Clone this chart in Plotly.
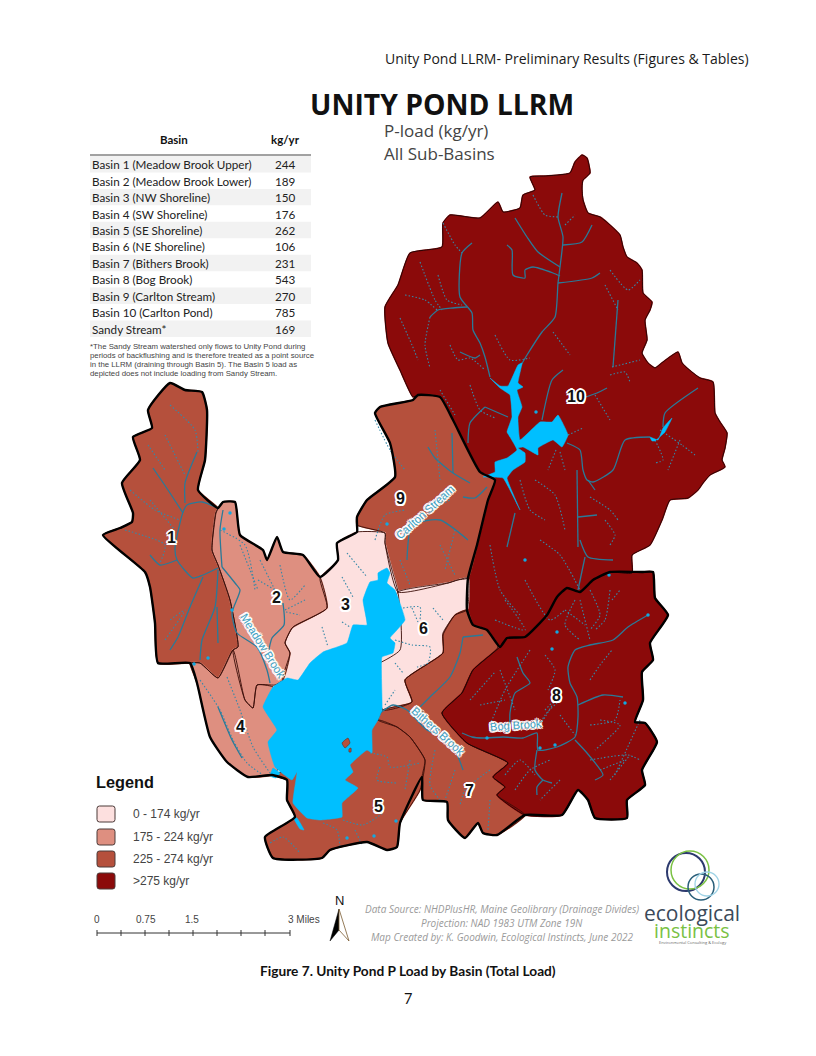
import plotly.graph_objects as go

# ---------- table ----------
table_basins = ["Basin 1 (Meadow Brook Upper)", "Basin 2 (Meadow Brook Lower)", "Basin 3 (NW Shoreline)",
                "Basin 4 (SW Shoreline)", "Basin 5 (SE Shoreline)", "Basin 6 (NE Shoreline)",
                "Basin 7 (Bithers Brook)", "Basin 8 (Bog Brook)", "Basin 9 (Carlton Stream)",
                "Basin 10 (Carlton Pond)", "Sandy Stream*"]
table_loads = [244, 189, 150, 176, 262, 106, 231, 543, 270, 785, 169]
table_note = ["*The Sandy Stream watershed only flows to Unity Pond during",
              "periods of backflushing and is therefore treated as a point source",
              "in the LLRM (draining through Basin 5). The Basin 5 load as",
              "depicted does not include loading from Sandy Stream."]
legend_labels = ["0 - 174 kg/yr", "175 - 224 kg/yr", "225 - 274 kg/yr", ">275 kg/yr"]
legend_colors = ["#fde0df", "#de8f80", "#b5503c", "#8b0a0a"]

# ---------- map outlines (page pixels) ----------
BASIN_10 = [(582,155),(587,158),(590,173),(583,180),(582,187),(583,200),(588,213),(600,217),(610,225),(620,235),(623,247),(627,257),
            (637,263),(642,270),(643,293),(652,302),(650,310),(645,320),(647,340),(642,353),(648,363),(655,368),(663,362),(678,352),
            (682,363),(687,368),(700,378),(713,382),(715,413),(720,422),(727,433),(725,448),(722,460),(725,467),(710,475),(703,483),
            (698,490),(688,498),(670,500),(662,520),(650,545),(632,555),(632,573),
            (610,572),(593,580),(580,592),(567,588),(557,597),(547,615),(525,637),(507,638),(500,647),(487,630),
            (473,625),(467,610),(468,578),(477,545),(488,500),(495,480),(480,472),(453,420),(440,397),(418,395),
            (413,397),(400,370),(388,343),(385,307),(398,285),(410,253),(442,247),(443,223),(450,215),(480,218),(498,202),(503,212),
            (520,208),(523,195),(535,190),(530,177),(545,176),(570,173),(575,162)]
BASIN_9 = [(375,413),(380,407),(413,400),(418,395),(440,397),(453,420),(480,472),(495,480),(488,500),(477,545),
           (468,578),(457,580),(448,583),(398,592),(385,543),(385,533),(357,525),(357,517),(367,500),(395,477),(390,443)]
BASIN_3 = [(337,543),(357,532),(385,533),(385,543),(392,570),(398,592),(400,650),(340,680),(283,680),(290,653),
           (285,643),(293,627),(327,608),(320,578),(338,560)]
BASIN_6 = [(398,592),(448,583),(468,578),(467,610),(455,615),(443,633),(443,653),(405,680),(412,702),(383,710),
           (375,660),(390,620)]
BASIN_1 = [(170,383),(185,390),(202,392),(207,410),(205,460),(198,490),(218,508),(216,513),(212,550),(218,565),
           (230,600),(238,647),(233,650),(218,678),(200,663),(190,663),(158,663),(155,623),(150,587),(145,572),
           (103,535),(120,528),(132,522),(133,513),(122,483),(140,460),(133,437),(152,428),(148,410)]
BASIN_2 = [(216,512),(223,502),(235,502),(240,535),(263,550),(267,560),(277,537),(283,552),(303,555),(320,577),
           (327,608),(292,628),(285,643),(290,653),(283,680),(275,685),(257,685),(253,708),(245,700),(233,650),
           (238,647),(230,600),(218,565),(212,550)]
BASIN_4 = [(190,663),(200,663),(218,678),(233,650),(245,700),(253,708),(257,685),(273,687),(290,720),(285,760),
           (272,775),(248,777),(227,762),(210,737),(197,683)]
BASIN_5 = [(272,775),(287,780),(287,800),(295,817),(265,837),(273,858),(322,858),(330,850),(367,842),(387,850),
           (397,847),(400,823),(420,790),(425,760),(410,737),(397,727),(378,720),(355,740),(320,770),(290,770)]
BASIN_7 = [(378,720),(383,710),(412,702),(405,680),(443,653),(443,635),(455,615),(467,610),(473,625),(487,630),
           (498,647),(473,670),(462,693),(442,713),(467,743),(508,763),(493,777),(505,787),(497,795),(525,815),
           (497,835),(483,833),(478,823),(465,838),(448,820),(447,802),(423,800),(422,777),(425,760),(410,737),(397,727)]
BASIN_8 = [(500,647),(507,638),(525,637),(547,615),(557,597),(567,588),(580,592),(593,580),(610,572),(642,572),
           (653,572),(655,598),(668,615),(650,643),(653,660),(642,672),(643,700),(635,722),(645,723),(657,742),
           (642,770),(645,785),(627,800),(627,818),(595,818),(588,800),(578,790),(562,815),(525,815),(497,795),
           (505,787),(493,777),(508,763),(467,743),(442,713),(462,693),(473,670)]
WATERSHED_EDGE = [(375,413),(380,407),(413,400),(418,395),(440,397),(453,420),(480,472),(495,480),(488,500),(477,545),
                  (468,578),(467,610),(473,625),(487,630),(500,647),(507,638),(525,637),(547,615),(557,597),(567,588),
                  (580,592),(593,580),(610,572),(642,572),(653,572),(655,598),(668,615),(650,643),(653,660),(642,672),
                  (643,700),(635,722),(645,723),(657,742),(642,770),(645,785),(627,800),(627,818),(595,818),(588,800),
                  (578,790),(562,815),(525,815),(497,835),(483,833),(478,823),(465,838),(448,820),(447,802),(423,800),
                  (422,777),(400,823),(397,847),(387,850),(367,842),(330,850),(322,858),(273,858),(265,837),(295,817),
                  (287,800),(287,780),(272,775),(248,777),(227,762),(210,737),(197,683),(190,663),(158,663),(155,623),
                  (150,587),(145,572),(103,535),(120,528),(132,522),(133,513),(122,483),(140,460),(133,437),(152,428),
                  (148,410),(170,383),(185,390),(202,392),(207,410),(205,460),(198,490),(218,508),(223,502),(235,502),
                  (240,535),(263,550),(267,560),(277,537),(283,552),(303,555),(320,577),(338,560),(337,543),(357,532),
                  (357,525),(357,517),(367,500),(395,477),(390,443),(375,413)]
UNITY_POND = [(387,568),(390,573),(387,583),(395,590),(405,620),(397,630),(390,638),(395,643),(393,653),(382,657),
              (382,710),(378,720),(372,730),(372,753),(367,750),(350,765),(353,772),(345,780),(358,788),(342,803),
              (342,817),(320,820),(307,818),(293,803),(297,772),(292,780),(275,767),(268,742),(277,730),(263,707),
              (273,687),(287,678),(298,680),(310,663),(323,652),(347,643),(353,625),(367,625),(363,600),(370,582),
              (378,580),(378,573)]
CARLTON_POND = [(490,378),(500,386),(508,386),(518,365),(522,363),(518,383),(523,387),(517,390),(522,407),(518,417),
                (520,440),(540,422),(552,422),(558,415),(568,435),(562,447),(553,440),(538,448),(538,455),(523,447),
                (518,448),(525,453),(525,462),(513,470),(507,478),(520,510),(503,478),(483,477),(495,472),(495,462),
                (507,458),(517,450),(510,437),(507,432),(512,417),(510,395),(500,388)]
HEAD_POND = [(650,437),(658,440),(663,428),(672,418),(665,432),(655,441),(652,441)]
SLIVER_POND = [(293,817),(297,818),(304,830),(300,829)]
COVE_POND = [(273,768),(280,773),(276,778),(270,776)]
ISLAND_A = [(342,743),(348,738),(350,743),(345,748)]
ISLAND_B = [(349,749),(351,748),(351,752),(349,752)]

SOLID_STREAMS = [
    [(562,193),(558,217),(563,237),(560,267),(558,283),(555,317),(542,332),(527,355),(520,367)],
    [(515,218),(527,237),(538,252),(560,267)],
    [(563,245),(582,242),(592,225)],
    [(507,245),(512,250),(513,275),(525,278),(525,270),(533,267),(553,273),(560,276)],
    [(558,283),(592,278),(600,273)],
    [(472,243),(462,253),(460,297),(472,313),(473,330),(480,343),(485,357),(490,377)],
    [(430,317),(438,310),(453,308),(467,307)],
    [(567,443),(580,450),(583,470),(587,480),(593,482),(613,470),(625,440),(650,437)],
    [(663,427),(665,413),(698,388)],
    [(542,420),(552,380),(563,370)],
    [(567,403),(597,393),(607,388)],
    [(613,367),(618,300)],
    [(577,470),(578,547)],
    [(485,407),(470,423),(468,443)],
    [(485,407),(508,417)],
    [(515,513),(507,547)],
    [(578,517),(597,515)],
    [(595,490),(588,480)],
    [(580,540),(588,557),(613,560)],
    [(585,557),(578,590)],
    [(480,355),(475,358),(460,352)],
    [(218,568),(203,575),(193,578),(177,560),(175,548),(183,512),(187,505),(202,502),(218,508)],
    [(185,503),(185,483),(197,452)],
    [(183,513),(168,490),(153,468)],
    [(203,577),(190,607),(178,637),(170,650)],
    [(218,570),(215,607),(202,640),(200,660)],
    [(217,607),(218,643)],
    [(177,560),(160,565),(150,555)],
    [(222,567),(235,583),(240,590),(232,613),(237,633),(257,647),(267,670),(270,683)],
    [(223,510),(220,530),(222,567)],
    [(283,603),(284,625),(272,638),(268,655)],
    [(648,615),(628,627),(613,640),(590,645),(575,650),(568,667),(570,683),(577,697),(578,717),(575,737),(557,747),
     (538,750),(537,733),(523,738),(503,737),(483,738),(472,737),(462,733)],
    [(517,657),(523,673),(530,683),(515,693),(510,713),(510,727)],
    [(578,705),(603,695),(623,697)],
    [(575,740),(587,753),(603,775),(595,780)],
    [(537,750),(535,770),(543,780),(552,783)],
    [(543,780),(537,787),(537,795)],
    [(380,713),(393,705),(407,710),(427,730),(450,740),(463,770)],
    [(463,637),(460,653),(450,677),(430,697),(420,707)],
    [(463,637),(483,635)],
    [(428,447),(435,458),(453,473),(470,483)],
    [(452,433),(453,473)],
    [(463,497),(475,498),(487,487)],
    [(407,560),(412,525),(440,520),(468,540)],
    [(218,707),(232,740),(242,758)],
]
DOTTED_STREAMS = [
    [(443,223),(455,245),(462,253)], [(420,262),(435,300),(442,310)], [(438,275),(447,300),(462,305)],
    [(405,295),(425,300),(437,310)], [(400,318),(412,345),(418,360)], [(430,317),(425,345),(430,368)],
    [(450,345),(458,360),(470,358),(485,370)], [(495,335),(510,360),(530,358)], [(553,332),(570,355)],
    [(533,195),(545,215),(558,217)], [(565,225),(575,215)], [(610,270),(628,290),(640,280)],
    [(605,285),(618,310)], [(612,367),(640,360)], [(595,395),(610,420)], [(610,375),(625,372),(630,382)],
    [(470,385),(480,410),(495,418)], [(440,390),(455,415)], [(568,435),(583,428)], [(556,450),(548,470)],
    [(560,452),(565,470)], [(660,430),(682,445),(695,455)], [(680,440),(668,470)], [(655,440),(663,460),(655,463)],
    [(520,480),(530,510),(545,520)], [(535,480),(555,495),(565,530)], [(590,497),(610,510),(618,520)],
    [(605,520),(615,535),(610,545)], [(490,545),(500,590),(520,615)], [(525,580),(550,620),(565,610)],
    [(540,540),(560,555),(580,590)], [(505,600),(525,630),(495,620)], [(610,590),(605,620),(595,630)],
    [(580,600),(590,640)], [(565,610),(585,625)], [(500,670),(515,710)], [(470,700),(495,672)],
    [(480,705),(505,700)], [(540,725),(555,700),(545,710)], [(560,715),(575,735)],
    [(600,720),(620,725),(595,750)], [(590,760),(628,755),(640,760)], [(610,780),(630,755)], [(560,780),(540,800)],
    [(515,790),(530,770),(550,760)],
    [(590,590),(600,615),(590,630)], [(575,600),(565,625),(580,640)], [(612,600),(620,590)], [(545,655),(555,670),(548,690)],
    [(530,650),(505,690),(490,725)], [(590,680),(600,665),(612,650)], [(560,700),(545,715),(540,725)],
    [(590,725),(615,720),(620,700)], [(640,720),(615,775)], [(600,770),(625,760)], [(505,775),(520,760),(535,775)],
    [(148,445),(165,470)], [(165,435),(185,475)], [(170,405),(195,430),(198,452)],
    [(130,490),(155,510),(180,520)], [(125,530),(165,545),(160,563)], [(150,500),(175,530)],
    [(165,640),(185,610),(170,620)], [(220,530),(245,545),(255,590)], [(240,545),(250,570),(258,590)],
    [(260,560),(275,590),(283,605)], [(280,565),(290,600),(305,585)], [(258,580),(275,590)], [(285,610),(305,600)],
    [(286,612),(300,615)], [(347,553),(367,577)], [(342,577),(353,597)], [(322,627),(328,647)], [(342,622),(350,627)],
    [(403,608),(420,607),(420,620)], [(412,608),(418,622)], [(433,608),(443,620)],
    [(395,640),(412,645),(430,647),(428,663),(417,667)], [(395,663),(403,673)], [(385,705),(395,690)],
    [(200,680),(220,710),(233,740),(247,763),(263,775)], [(227,677),(240,710),(253,747),(270,773)],
    [(323,823),(337,830),(340,847)], [(343,820),(363,825),(383,813)], [(370,753),(387,757),(390,767),(420,763)],
    [(380,767),(377,780),(397,783)], [(270,843),(283,837),(300,853)], [(355,830),(362,845)], [(410,760),(405,790)],
    [(435,750),(430,785),(440,800)], [(455,770),(445,800)], [(490,770),(465,790),(460,805)], [(490,800),(488,830)],
    [(375,420),(390,450),(405,470)], [(435,430),(440,480)], [(375,540),(385,515),(405,510)],
    [(420,515),(450,500)], [(455,530),(445,570)], [(400,560),(410,585)], [(440,545),(455,575)],
]
POND_SPECKS = [(648,615),(552,649),(487,738),(555,745),(540,748),(525,560),(625,703),(557,632),(609,575),(536,412),
               (387,524),(230,513),(224,529),(232,610),(208,658),(194,664),(396,821),(374,836),(347,838)]

BASIN_FILLS = [(BASIN_10, 3), (BASIN_9, 2), (BASIN_3, 0), (BASIN_6, 0), (BASIN_1, 2), (BASIN_2, 1),
               (BASIN_4, 1), (BASIN_5, 2), (BASIN_7, 2), (BASIN_8, 3)]
BASIN_NUMBERS = [("1",171,537),("2",276,597),("3",345,604),("4",240,726),("5",378,806),("6",423,628),
                 ("7",469,790),("8",556,695),("9",400,498),("10",576,396)]
STREAM_NAMES = [("Meadow Brook",263,646,58),("Carlton Stream",425,512,-42),("Bithers Brook",438,731,42),("Bog Brook",516,725,-4)]
SCALE_TICKS = [97,121,145,169,193,217,241,265,290]
SCALE_LABELS = [("0",97),("0.75",146),("1.5",192),("3 Miles",304)]
CREDITS = ["Data Source: NHDPlusHR, Maine Geolibrary (Drainage Divides)",
           "Projection: NAD 1983 UTM Zone 19N",
           "Map Created by: K. Goodwin, Ecological Instincts, June 2022"]

HALO = ",".join(f"{dx}px {dy}px 0.6px #fff" for dx, dy in
                [(-2,0),(2,0),(0,-2),(0,2),(-1.5,-1.5),(1.5,-1.5),(-1.5,1.5),(1.5,1.5)])

fig = go.Figure()

def poly(pts, fill, line="rgba(0,0,0,0)", w=0, closed=True, smooth=0.45):
    xs = [p[0] for p in pts]
    ys = [p[1] for p in pts]
    if closed:
        xs.append(xs[0]); ys.append(ys[0])
    fig.add_trace(go.Scatter(x=xs, y=ys, mode="lines", fill="toself" if fill else None, fillcolor=fill,
                             line=dict(color=line, width=w, shape="spline", smoothing=smooth),
                             hoverinfo="skip", showlegend=False))

def stream(pts, color, w, dash="solid"):
    fig.add_trace(go.Scatter(x=[p[0] for p in pts], y=[p[1] for p in pts], mode="lines",
                             line=dict(color=color, width=w, dash=dash, shape="spline", smoothing=0.6),
                             hoverinfo="skip", showlegend=False))

for pts, c in BASIN_FILLS:
    poly(pts, legend_colors[c], legend_colors[c], 1.5)
for pts, c in BASIN_FILLS:
    poly(pts, None, "#3a0d08" if c != 3 else "#1d0505", 0.9)

for s in SOLID_STREAMS:
    stream(s, "#2a7a98", 1.3)
for s in DOTTED_STREAMS:
    stream(s, "#3688a8", 1.1, "1.5px,2px")

for p in (UNITY_POND, CARLTON_POND, HEAD_POND, SLIVER_POND, COVE_POND):
    poly(p, "#00bfff", "#00bfff", 0.5, smooth=0.3)
poly(ISLAND_A, legend_colors[2], "#5a1c10", 0.5)
poly(ISLAND_B, legend_colors[2], "#5a1c10", 0.5)

fig.add_trace(go.Scatter(x=[p[0] for p in POND_SPECKS], y=[p[1] for p in POND_SPECKS], mode="markers",
                         marker=dict(color="#12a8e0", size=3.5), hoverinfo="skip", showlegend=False))
poly(WATERSHED_EDGE, None, "#000000", 2.4, closed=False)

shapes = []
annos = []

def text(t, x, y, size, color="#000", family="Lato", anchor="left", bold=False, italic=False, **kw):
    if bold:
        t = f"<b>{t}</b>"
    if italic:
        t = f"<i>{t}</i>"
    annos.append(dict(x=x, y=y, xref="x", yref="y", text=t, showarrow=False, xanchor=anchor, yanchor="middle",
                      font=dict(size=size, color=color, family=family), **kw))

# header
text("Unity Pond LLRM- Preliminary Results (Figures &amp; Tables)", 751, 58, 14, "#1a1a1a", "Open Sans", "right")
text("UNITY POND LLRM", 442, 104, 28.3, "#111", "Open Sans", "center", bold=True)
text("P-load (kg/yr)", 382, 130, 17, "#444", "Open Sans")
text("All Sub-Basins", 382, 153, 17, "#444", "Open Sans")

# table
row_h = 16.45
top = 156
for i, (b, v) in enumerate(zip(table_basins, table_loads)):
    if i % 2 == 0:
        shapes.append(dict(type="rect", x0=90, x1=311, y0=top + i*row_h, y1=top + (i+1)*row_h,
                           fillcolor="#f2f2f2", line_width=0, layer="below"))
    text(b, 90, top + (i+0.5)*row_h, 11.7, "#222", "Lato")
    text(str(v), 285, top + (i+0.5)*row_h, 11.7, "#222", "Lato", "center")
shapes.append(dict(type="line", x0=90, x1=311, y0=155, y1=155, line=dict(color="#444", width=1)))
text("Basin", 174, 139, 11.5, "#111", "Lato", "center", bold=True)
text("kg/yr", 285, 139, 11.5, "#111", "Lato", "center", bold=True)
for i, n in enumerate(table_note):
    text(n, 88, 346 + i*9, 7.8, "#444", "Liberation Sans")

# map labels
for t, x, y, ang in STREAM_NAMES:
    annos.append(dict(x=x, y=y, xref="x", yref="y", text=t, showarrow=False, textangle=ang,
                      font=dict(size=11, color="#3aa2c4", family="Liberation Sans", shadow=HALO)))
for t, x, y in BASIN_NUMBERS:
    annos.append(dict(x=x, y=y, xref="x", yref="y", text=f"<b>{t}</b>", showarrow=False,
                      font=dict(size=16, color="#111", family="Liberation Sans", shadow=HALO)))

def rounded_rect(x0, y0, x1, y1, r):
    return (f"M {x0+r} {y0} L {x1-r} {y0} Q {x1} {y0} {x1} {y0+r} L {x1} {y1-r} Q {x1} {y1} {x1-r} {y1} "
            f"L {x0+r} {y1} Q {x0} {y1} {x0} {y1-r} L {x0} {y0+r} Q {x0} {y0} {x0+r} {y0} Z")

# legend
text("Legend", 94, 782, 16.3, "#111", "Liberation Sans", bold=True)
for label, col, y in zip(legend_labels, legend_colors, [814, 837, 859, 881]):
    shapes.append(dict(type="path", path=rounded_rect(97, y-8, 115, y+8, 2.5), fillcolor=col,
                       line=dict(color="#4a3a38", width=1)))
    text(label, 131, y, 12, "#444", "Liberation Sans")

# scale bar
shapes.append(dict(type="line", x0=SCALE_TICKS[0], x1=SCALE_TICKS[-1], y0=933, y1=933, line=dict(color="#333", width=1)))
for t in SCALE_TICKS:
    shapes.append(dict(type="line", x0=t, x1=t, y0=930, y1=936, line=dict(color="#333", width=1)))
for t, x in SCALE_LABELS:
    text(t, x, 919, 10, "#444", "Liberation Sans", "center")

# north arrow
text("N", 339, 900, 13, "#111", "Liberation Sans", "center")
shapes.append(dict(type="path", path="M 339 909 L 339 930 L 330 941 Z", fillcolor="#000", line=dict(color="#000", width=0.5)))
shapes.append(dict(type="path", path="M 339 909 L 339 930 L 349 941 Z", fillcolor="#fff", line=dict(color="#7a5a30", width=0.8)))

# credits
for c, y in zip(CREDITS, [909, 923, 937]):
    text(c, 502, y, 10, "#9a9a9a", "Open Sans", "center", italic=True)

# logo
for cx, cy, r, col, w in [(686,872,19,"#2d3a6e",2), (690,870,19,"#7ac143",1.5), (701,887,13,"#2a5f7a",1.5), (707,884,12,"#9fd3e6",1.3)]:
    shapes.append(dict(type="circle", x0=cx-r, x1=cx+r, y0=cy-r, y1=cy+r, line=dict(color=col, width=w)))
text("ecological", 692, 913, 21, "#3b4a5a", "Open Sans", "center")
text("instincts", 692, 930, 19.5, "#79c143", "Open Sans", "center")
text("Environmental Consulting &amp; Ecology", 692, 942, 4, "#666", "Open Sans", "center")

# caption
text("Figure 7. Unity Pond P Load by Basin (Total Load)", 408, 970, 13.7, "#111", "Lato", "center", bold=True)
text("7", 408, 998, 14.5, "#111", "Lato", "center")

fig.update_layout(width=816, height=1056, margin=dict(l=0, r=0, t=0, b=0), autosize=False,
                  paper_bgcolor="#ffffff", plot_bgcolor="#ffffff", shapes=shapes, annotations=annos,
                  xaxis=dict(range=[0, 816], visible=False, fixedrange=True),
                  yaxis=dict(range=[1056, 0], visible=False, fixedrange=True),
                  showlegend=False)
fig.write_html("out.html", config=dict(displayModeBar=False),
               post_script="document.body.style.margin='0';document.body.style.overflow='hidden';")
